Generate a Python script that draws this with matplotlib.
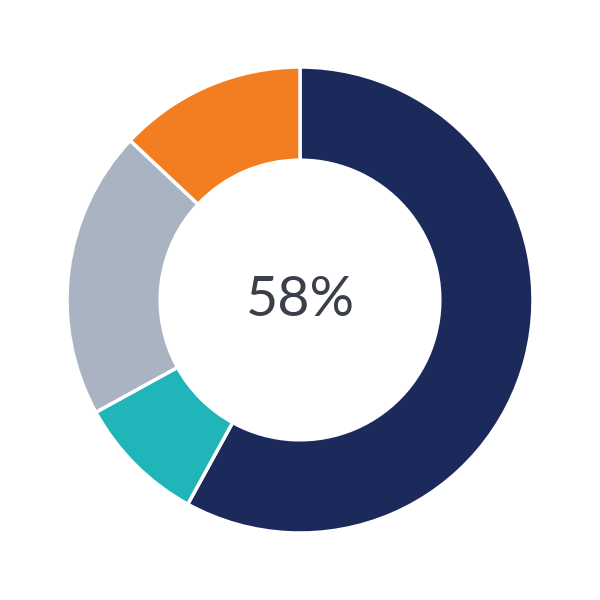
import matplotlib.pyplot as plt

labels = ["A", "B", "C", "D"]
values = [58, 9, 20, 13]
colors = ["#1b2a5a", "#1fb5b9", "#a9b3c1", "#f27e21"]
center_text = "58%"

fig = plt.figure(figsize=(6, 6), dpi=100)
ax = fig.add_axes([0, 0, 1, 1])
ax.pie(values, colors=colors, startangle=90, counterclock=False,
       radius=1.0,
       wedgeprops=dict(width=0.4, edgecolor="white", linewidth=2.5))
lim = 300 / 233
ax.set_xlim(-lim, lim)
ax.set_ylim(-lim, lim)
ax.set_aspect("equal")
ax.axis("off")
ax.text(0, 0, center_text, ha="center", va="center", fontsize=40,
        family=["Lato", "DejaVu Sans"], color="#3a3f4a")
fig.savefig("out.png", dpi=100)
